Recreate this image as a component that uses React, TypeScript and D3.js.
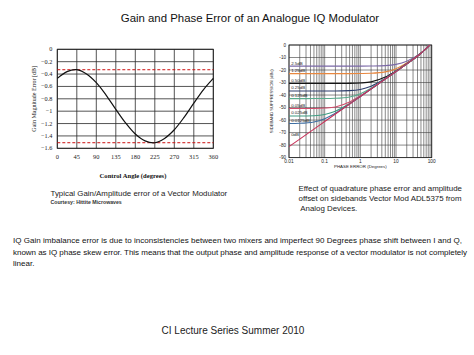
import React from "react";
import * as d3 from "d3";

// ---------- Left chart data (Gain magnitude error vs control angle) ----------
const gainAngle = [0, 22.5, 45, 67.5, 90, 112.5, 135, 157.5, 180, 202.5, 225, 247.5, 270, 292.5, 315, 337.5, 360];
const gainError = [-0.47, -0.36, -0.33, -0.4, -0.54, -0.74, -0.97, -1.19, -1.37, -1.48, -1.51, -1.44, -1.3, -1.1, -0.87, -0.65, -0.47];
const gainLimits = [-0.33, -1.51];
const gainXTicks = [0, 45, 90, 135, 180, 225, 270, 315, 360];
const gainYTicks = [0, -0.2, -0.4, -0.6, -0.8, -1, -1.2, -1.4, -1.6];

// ---------- Right chart data (Sideband suppression vs phase error) ----------
const phaseDeg = [0.01, 0.02, 0.05, 0.1, 0.2, 0.5, 1, 2, 5, 10, 20, 50, 100];
const sb2p5 = [-16.9, -16.9, -16.9, -16.9, -16.9, -16.9, -16.9, -16.8, -16.5, -15.5, -12.9, -6.3, 1.5];
const sb1p25 = [-22.9, -22.9, -22.9, -22.9, -22.9, -22.9, -22.8, -22.6, -21.5, -18.9, -14.4, -6.5, 1.5];
const sb0p5 = [-30.8, -30.8, -30.8, -30.8, -30.8, -30.7, -30.4, -29.5, -25.6, -20.7, -15.0, -6.6, 1.5];
const sb0p25 = [-36.8, -36.8, -36.8, -36.8, -36.8, -36.5, -35.5, -32.9, -26.8, -21.1, -15.0, -6.6, 1.5];
const sb0p125 = [-42.9, -42.9, -42.8, -42.8, -42.6, -41.5, -38.9, -34.5, -27.1, -21.1, -15.1, -6.6, 1.5];
const sb0p05 = [-50.8, -50.8, -50.7, -50.4, -49.5, -45.6, -40.7, -35.1, -27.2, -21.2, -15.1, -6.6, 1.5];
const sb0p025 = [-56.8, -56.8, -56.5, -55.5, -52.9, -46.8, -41.1, -35.1, -27.2, -21.2, -15.1, -6.6, 1.5];
const sb0p0125 = [-62.8, -62.6, -61.5, -58.9, -54.5, -47.1, -41.2, -35.2, -27.2, -21.2, -15.1, -6.6, 1.5];
const sb0 = [-81.2, -75.2, -67.2, -61.2, -55.2, -47.2, -41.2, -35.2, -27.2, -21.2, -15.1, -6.6, 1.5];
const sbLabels = ["2.5dB", "1.25dB", "0.50dB", "0.25dB", "0.125dB", "0.05dB", "0.025dB", "0.0125dB", "0dB"];
const sbColors = ["#7a68a6", "#e8873f", "#151515", "#2c3d6c", "#58aa8c", "#d24d6c", "#3f9c82", "#3e6ea2", "#c8325a"];
const sbSeries = [sb2p5, sb1p25, sb0p5, sb0p25, sb0p125, sb0p05, sb0p025, sb0p0125, sb0];
const sbXTicks = [0.01, 0.1, 1, 10, 100];
const sbXTickLabels = ["0.01", "0.1", "1", "10", "100"];
const sbYTicks = [0, -10, -20, -30, -40, -50, -60, -70, -80, -90];

const paragraph = [
  "IQ Gain imbalance error is due to inconsistencies between two mixers and imperfect 90 Degrees phase shift between I and Q,",
  "known as IQ phase skew error. This means that the output phase and amplitude response of a vector modulator is not completely",
  "linear.",
];
const paragraphWidths = [449, 454, 0];
const rightCaption = [
  "Effect of quadrature phase error and amplitude",
  "offset on sidebands Vector Mod ADL5375 from",
  " Analog Devices.",
];

const SANS = "'Liberation Sans', Arial, sans-serif";
const SERIF = "'Liberation Serif', 'Times New Roman', serif";

export default function App() {
  // Left chart scales
  const xL = d3.scaleLinear().domain([0, 360]).range([57.3, 213.3]);
  const yL = d3.scaleLinear().domain([0, -1.6]).range([49.3, 148.3]);
  const gainPts = gainAngle.map((a, i) => [a, gainError[i]] as [number, number]);
  const gainLine = d3
    .line<[number, number]>()
    .x((d) => xL(d[0]))
    .y((d) => yL(d[1]))
    .curve(d3.curveCatmullRom);

  // Right chart scales
  const xR = d3.scaleLog().domain([0.01, 100]).range([289, 431.7]);
  const yR = d3.scaleLinear().domain([0, -90]).range([45, 157.6]);
  const sbLine = d3
    .line<[number, number]>()
    .x((d) => xR(d[0]))
    .y((d) => yR(d[1]))
    .curve(d3.curveMonotoneX);

  const minorX: number[] = [];
  for (let e = -2; e < 2; e++) {
    for (let m = 1; m <= 9; m++) minorX.push(m * Math.pow(10, e));
  }
  minorX.push(100);

  return (
    <svg
      width={474}
      height={355}
      viewBox="0 0 474 355"
      style={{ position: "absolute", left: 0, top: 0, background: "#fff" }}
    >
      <rect x={0} y={0} width={474} height={355} fill="#fff" />
      <text x={250} y={22} textAnchor="middle" fontFamily={SANS} fontSize={11.4} fill="#111">
        Gain and Phase Error of an Analogue IQ Modulator
      </text>

      {/* ---------- Left chart ---------- */}
      <g>
        {gainYTicks.map((t) => (
          <line key={"gy" + t} x1={xL(0)} x2={xL(360)} y1={yL(t)} y2={yL(t)} stroke="#2a2a2a" strokeWidth={0.8} />
        ))}
        {gainXTicks.map((t) => (
          <line key={"gx" + t} x1={xL(t)} x2={xL(t)} y1={yL(0)} y2={yL(-1.6)} stroke="#2a2a2a" strokeWidth={0.8} />
        ))}
        <rect x={xL(0)} y={yL(0)} width={xL(360) - xL(0)} height={yL(-1.6) - yL(0)} fill="none" stroke="#222" strokeWidth={0.9} />
        {gainLimits.map((v) => (
          <line key={"lim" + v} x1={xL(0)} x2={xL(360)} y1={yL(v)} y2={yL(v)} stroke="#cc1111" strokeWidth={1} strokeDasharray="3,2" />
        ))}
        <path d={gainLine(gainPts) || ""} fill="none" stroke="#111" strokeWidth={1.2} />
        {gainYTicks.map((t) => (
          <text key={"gyl" + t} x={xL(0) - 5} y={yL(t) + 2} textAnchor="end" fontFamily={SERIF} fontSize={6.2} fill="#222">
            {t === 0 ? "0" : d3.format("")(t)}
          </text>
        ))}
        {gainXTicks.map((t) => (
          <text key={"gxl" + t} x={xL(t)} y={159} textAnchor="middle" fontFamily={SERIF} fontSize={6.4} fill="#222">
            {t}
          </text>
        ))}
        <text
          transform={`translate(36,${(yL(0) + yL(-1.6)) / 2}) rotate(-90)`}
          textAnchor="middle"
          fontFamily={SERIF}
          fontSize={6}
          fill="#222"
        >
          Gain Magnitude Error [dB]
        </text>
        <text x={133} y={178} textAnchor="middle" fontFamily={SERIF} fontWeight="bold" fontSize={6.6} fill="#111">
          Control Angle (degrees)
        </text>
      </g>

      {/* ---------- Right chart ---------- */}
      <g>
        {minorX.map((t, i) => (
          <line key={"rx" + i} x1={xR(t)} x2={xR(t)} y1={yR(0)} y2={yR(-90)} stroke="#3a3a3a" strokeWidth={0.6} />
        ))}
        {sbYTicks.map((t) => (
          <line key={"ry" + t} x1={xR(0.01)} x2={xR(100)} y1={yR(t)} y2={yR(t)} stroke="#3a3a3a" strokeWidth={0.6} />
        ))}
        <rect x={xR(0.01)} y={yR(0)} width={xR(100) - xR(0.01)} height={yR(-90) - yR(0)} fill="none" stroke="#222" strokeWidth={0.8} />
        <clipPath id="rclip">
          <rect x={xR(0.01)} y={yR(0)} width={xR(100) - xR(0.01)} height={yR(-90) - yR(0)} />
        </clipPath>
        <g clipPath="url(#rclip)">
          {sbSeries.map((s, k) => (
            <path
              key={"sb" + k}
              d={sbLine(phaseDeg.map((p, i) => [p, s[i]] as [number, number])) || ""}
              fill="none"
              stroke={sbColors[k]}
              strokeWidth={1.1}
            />
          ))}
        </g>
        {sbSeries.map((s, k) => (
          <text
            key={"sbl" + k}
            x={xR(0.0115)}
            y={k === 8 ? yR(-73) : yR(s[0]) - 1.6}
            fontFamily={SANS}
            fontSize={4.4}
            fill="#222"
          >
            {sbLabels[k]}
          </text>
        ))}
        {sbYTicks.map((t) => (
          <text key={"ryl" + t} x={286} y={yR(t) + 1.6} textAnchor="end" fontFamily={SANS} fontSize={4.6} fill="#222">
            {t}
          </text>
        ))}
        {sbXTicks.map((t, i) => (
          <text key={"rxl" + t} x={xR(t)} y={162.5} textAnchor="middle" fontFamily={SANS} fontSize={4.8} fill="#222">
            {sbXTickLabels[i]}
          </text>
        ))}
        <text
          transform={`translate(273,${(yR(0) + yR(-90)) / 2}) rotate(-90)`}
          textAnchor="middle"
          fontFamily={SANS}
          fontSize={4.2}
          fill="#222"
        >
          SIDEBAND SUPPRESSION (dBc)
        </text>
        <text x={(xR(0.01) + xR(100)) / 2} y={167.5} textAnchor="middle" fontFamily={SANS} fontSize={4.4} fill="#222">
          PHASE ERROR (Degrees)
        </text>
      </g>

      {/* ---------- Captions ---------- */}
      <text x={50.5} y={196} fontFamily={SANS} fontSize={7.9} fill="#222">
        Typical Gain/Amplitude error of a Vector Modulator
      </text>
      <text x={50.5} y={203.5} fontFamily={SANS} fontWeight="bold" fontSize={5.2} fill="#333">
        Courtesy: Hittite Microwaves
      </text>
      {rightCaption.map((l, i) => (
        <text key={"rc" + i} x={298.5} y={191 + i * 10} fontFamily={SANS} fontSize={7.9} fill="#222" style={{ whiteSpace: "pre" }}>
          {l}
        </text>
      ))}
      {paragraph.map((l, i) => (
        <text
          key={"p" + i}
          x={13}
          y={243 + i * 11.5}
          fontFamily={SANS}
          fontSize={8}
          fill="#111"
          {...(paragraphWidths[i] > 0 ? { textLength: paragraphWidths[i], lengthAdjust: "spacing" } : {})}
        >
          {l}
        </text>
      ))}
      <text x={233} y={334} textAnchor="middle" fontFamily={SANS} fontSize={10} fill="#222">
        CI Lecture Series Summer 2010
      </text>
    </svg>
  );
}
